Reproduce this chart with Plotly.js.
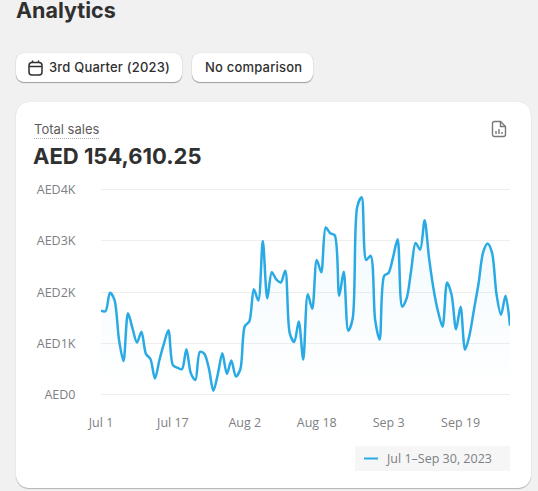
<!DOCTYPE html>
<html>
<head>
<meta charset="utf-8">
<script src="https://cdn.plot.ly/plotly-3.0.1.min.js"></script>
<style>
html,body{margin:0;padding:0;width:538px;height:491px;overflow:hidden;background:#f1f1f1;font-family:Inter,sans-serif;color:#303030}
.abs{position:absolute;white-space:nowrap}
.card{left:16px;top:102px;width:515px;height:386px;background:#fff;border-radius:13px;box-shadow:0 1px 1px rgba(0,0,0,.25),0 0 1px rgba(0,0,0,.12)}
.btn{top:53px;height:29px;background:#fff;border-radius:8px;box-shadow:0 1px 1px rgba(0,0,0,.35),0 0 1px rgba(0,0,0,.2);font-size:13px;font-weight:500;line-height:29px;letter-spacing:.2px}
#chart{position:absolute;left:0;top:0;width:538px;height:491px}
</style>
</head>
<body>
<div class="abs" style="left:16px;top:0;font-size:21.5px;font-weight:700;line-height:20px;color:#303030">Analytics</div>
<div class="abs btn" style="left:16px;width:166px"><svg style="position:absolute;left:12px;top:7px" width="15" height="16" viewBox="0 0 15 16" fill="none" stroke="#303030" stroke-width="1.5"><rect x="1" y="2.5" width="13" height="12.5" rx="3"/><path d="M1 6.5h13M4.5 .5v2M10.5 .5v2"/></svg><span style="position:absolute;left:33px">3rd Quarter (2023)</span></div>
<div class="abs btn" style="left:192px;width:121px"><span style="position:absolute;left:13px">No comparison</span></div>
<div class="abs card"></div>
<div class="abs" style="left:34px;top:121px;font-size:13px;line-height:16px;color:#5c5c5c;border-bottom:1.5px dotted #aaa;padding-bottom:1px">Total sales</div>
<div class="abs" style="left:33px;top:142px;font-size:22px;font-weight:700;line-height:28px;color:#303030">AED 154,610.25</div>
<svg class="abs" style="left:491px;top:120px" width="16" height="18" viewBox="0 0 16 18" fill="none" stroke="#777" stroke-width="1.4"><path d="M3.5 1.5h6l5 5v8a2 2 0 0 1-2 2h-9a2 2 0 0 1-2-2v-11a2 2 0 0 1 2-2z"/><path d="M9.5 1.5v5h5M5 14v-3M8 14v-5M11 14v-2"/></svg>
<div id="chart"></div>
<script>
var seriesName = "Jul 1–Sep 30, 2023";
var julyDays = 31, augustDays = 31, septemberDays = 30;
var salesK = [
 1.64,1.63,1.99,1.85,1.08,0.66,1.59,1.30,1.02,1.23,0.80,0.70,0.32,0.68,1.00,1.26,
 0.58,0.53,0.50,0.89,0.42,0.29,0.84,0.80,0.52,0.08,0.41,0.81,0.41,0.67,0.36,0.50,
 1.34,1.43,2.06,1.84,3.00,1.88,2.39,2.25,2.19,2.42,1.20,1.03,1.43,0.69,1.96,1.68,
 2.63,2.39,3.26,3.15,3.11,1.93,2.40,1.25,1.49,3.66,3.85,2.63,2.71,1.46,1.08,2.32,
 2.38,2.69,3.03,1.72,1.88,2.42,2.96,2.83,3.40,2.66,2.06,1.62,1.33,2.19,1.95,1.28,
 1.72,0.88,1.17,1.67,2.17,2.77,2.95,2.77,1.96,1.56,1.93,1.35];
var xTickVals = ["2023-07-01","2023-07-17","2023-08-02","2023-08-18","2023-09-03","2023-09-19"];
var xTickText = ["Jul 1","Jul 17","Aug 2","Aug 18","Sep 3","Sep 19"];
var yTickVals = [0,1,2,3,4];
var yTickText = ["AED0","AED1K","AED2K","AED3K","AED4K"];

function pad(n){return (n<10?"0":"")+n;}
var dates = [];
[[7,julyDays],[8,augustDays],[9,septemberDays]].forEach(function(m){
  for(var d=1;d<=m[1];d++) dates.push("2023-"+pad(m[0])+"-"+pad(d));
});
var W=538,H=491;
var tickFont={family:"'Open Sans', sans-serif",size:12.5,color:"#7d8084"};
var trace={
  x:dates,y:salesK,name:seriesName,type:"scatter",mode:"lines",
  line:{color:"#2aaae4",width:2.5,shape:"spline",smoothing:0.85},
  fill:"tozeroy",
  fillgradient:{type:"vertical",colorscale:[[0,"rgba(42,170,228,0)"],[1,"rgba(42,170,228,0.07)"]]},
  hoverinfo:"x+y"
};
var layout={
  width:W,height:H,margin:{l:0,r:0,t:0,b:0},
  paper_bgcolor:"rgba(0,0,0,0)",plot_bgcolor:"rgba(0,0,0,0)",showlegend:false,
  xaxis:{domain:[101/W,510/W],type:"date",range:["2023-07-01","2023-09-30"],tickmode:"array",
    tickvals:xTickVals,ticktext:xTickText,tickfont:tickFont,showgrid:false,zeroline:false,showline:false,
    ticks:"outside",ticklen:14,tickcolor:"rgba(0,0,0,0)"},
  yaxis:{domain:[1-397/H,1-187.5/H],range:[-0.04,4.04],tickmode:"array",tickvals:yTickVals,ticktext:yTickText,
    tickfont:tickFont,showgrid:true,gridcolor:"#eeeeee",gridwidth:1,zeroline:false,showline:false,
    ticks:"outside",ticklen:22,tickcolor:"rgba(0,0,0,0)"},
  annotations:[{xref:"paper",yref:"paper",x:384/W,y:1-458.5/H,xanchor:"left",yanchor:"middle",
    showarrow:false,text:seriesName,font:tickFont}],
  shapes:[
   {type:"rect",xref:"paper",yref:"paper",x0:355/W,x1:510/W,y0:1-446/H,y1:1-471/H,fillcolor:"#f6f6f6",line:{width:0},layer:"below"},
   {type:"line",xref:"paper",yref:"paper",x0:364/W,x1:378/W,y0:1-458.5/H,y1:1-458.5/H,line:{color:"#2aaae4",width:2}}]
};
Plotly.newPlot("chart",[trace],layout,{displayModeBar:false,staticPlot:true});
</script>
</body>
</html>
